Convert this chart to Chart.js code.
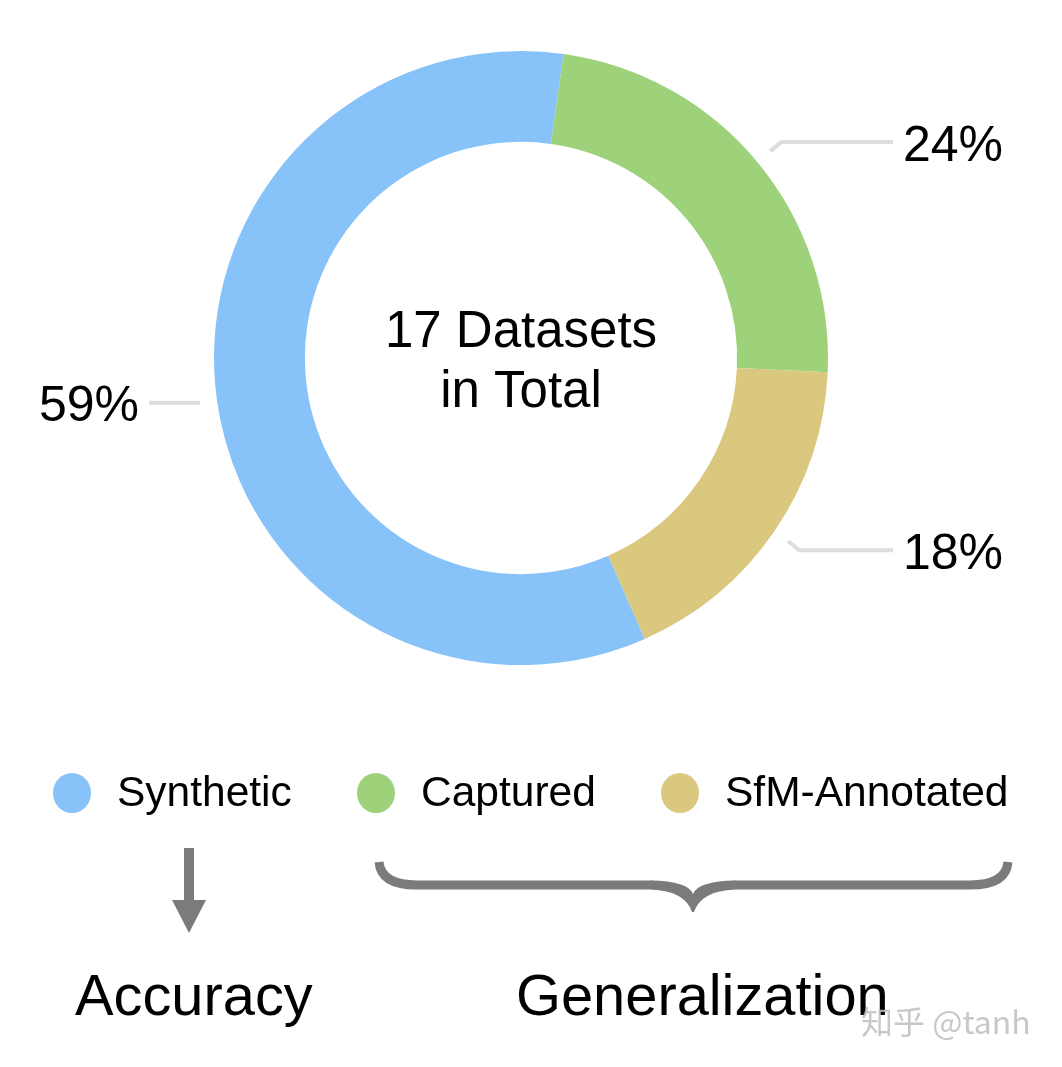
<!DOCTYPE html>
<html>
<head>
<meta charset="utf-8">
<script src="https://cdn.jsdelivr.net/npm/chart.js@4"></script>
<style>
html,body{margin:0;padding:0;background:#fff;}
canvas{display:block;}
</style>
</head>
<body>
<canvas id="c" width="1062" height="1067"></canvas>
<script>
const categories = ['Synthetic', 'Captured', 'SfM-Annotated'];
const datasetCounts = [10, 4, 3];
const percentLabels = ['59%', '24%', '18%'];
const sliceColors = ['#87C3F8', '#9DD27B', '#DBC87F'];
const centerLines = ['17 Datasets', 'in Total'];
const groupLabels = ['Accuracy', 'Generalization'];
const watermark = '知乎 @tanh';

const FONT = '"Liberation Sans", Arial, Helvetica, sans-serif';
const GRAY = '#7b7b7b';

const overlay = {
  id: 'overlay',
  afterDraw(chart) {
    const ctx = chart.ctx;
    const meta = chart.getDatasetMeta(0);
    const arc0 = meta.data[0];
    const cx = arc0.x, cy = arc0.y;
    ctx.save();
    // center text
    ctx.fillStyle = '#000';
    ctx.font = '51px ' + FONT;
    ctx.textAlign = 'center';
    ctx.textBaseline = 'alphabetic';
    ctx.fillText(centerLines[0], cx, cy - 11);
    ctx.fillText(centerLines[1], cx, cy + 49);

    // leader lines + percentage labels
    meta.data.forEach((arc, i) => {
      const mid = (arc.startAngle + arc.endAngle) / 2;
      const r = arc.outerRadius + 17;
      const px = cx + Math.cos(mid) * r;
      const py = cy + Math.sin(mid) * r;
      const right = Math.cos(mid) > 0;
      const dir = right ? 1 : -1;
      let ex = px, ey = py;
      if (Math.abs(py - cy) > 100) {
        ex = px + dir * 11;
        ey = py + (py > cy ? 9 : -9);
      }
      const endX = cx + dir * 372;
      ctx.strokeStyle = '#dddddd';
      ctx.lineWidth = 4;
      ctx.lineJoin = 'round';
      ctx.beginPath();
      ctx.moveTo(px, py);
      ctx.lineTo(ex, ey);
      ctx.lineTo(endX, ey);
      ctx.stroke();
      ctx.fillStyle = '#000';
      ctx.font = '50px ' + FONT;
      ctx.textBaseline = 'middle';
      ctx.textAlign = right ? 'left' : 'right';
      ctx.fillText(percentLabels[i], endX + dir * 10, ey + 5);
    });

    // legend
    const legendX = [72, 376, 680];
    const legendY = 793;
    ctx.font = '42.5px ' + FONT;
    ctx.textAlign = 'left';
    ctx.textBaseline = 'middle';
    categories.forEach((name, i) => {
      ctx.fillStyle = sliceColors[i];
      ctx.beginPath();
      ctx.ellipse(legendX[i], legendY, 19, 20, 0, 0, Math.PI * 2);
      ctx.fill();
      ctx.fillStyle = '#000';
      ctx.fillText(name, legendX[i] + 45, legendY + 1);
    });

    // arrow
    ctx.fillStyle = GRAY;
    ctx.fillRect(184, 848, 10, 54);
    ctx.beginPath();
    ctx.moveTo(172, 900);
    ctx.lineTo(206, 900);
    ctx.lineTo(189, 933);
    ctx.closePath();
    ctx.fill();

    // brace
    const bl = 377, br = 1010, bm = 693, top = 862, h = 885, tip = 912;
    ctx.strokeStyle = GRAY;
    ctx.lineCap = 'butt';
    ctx.lineJoin = 'round';
    ctx.lineWidth = 9;
    ctx.beginPath();
    ctx.moveTo(bl + 2, top);
    ctx.quadraticCurveTo(bl + 4, h, bl + 40, h);
    ctx.lineTo(bm - 40, h);
    ctx.stroke();
    ctx.beginPath();
    ctx.moveTo(br - 2, top);
    ctx.quadraticCurveTo(br - 4, h, br - 40, h);
    ctx.lineTo(bm + 40, h);
    ctx.stroke();
    ctx.fillStyle = GRAY;
    ctx.beginPath();
    ctx.moveTo(bm - 42, h - 4.5);
    ctx.quadraticCurveTo(bm - 5, h - 4, bm, tip - 18);
    ctx.quadraticCurveTo(bm + 5, h - 4, bm + 42, h - 4.5);
    ctx.lineTo(bm + 42, h + 4.5);
    ctx.quadraticCurveTo(bm + 8, h + 6, bm + 1, tip);
    ctx.lineTo(bm - 1, tip);
    ctx.quadraticCurveTo(bm - 8, h + 6, bm - 42, h + 4.5);
    ctx.closePath();
    ctx.fill();

    // group labels
    ctx.fillStyle = '#000';
    ctx.font = '57.8px ' + FONT;
    ctx.textAlign = 'left';
    ctx.textBaseline = 'alphabetic';
    ctx.fillText(groupLabels[0], 75, 1015);
    ctx.fillText(groupLabels[1], 516, 1015);

    // watermark
    ctx.font = '32px "Noto Sans CJK SC", ' + FONT;
    ctx.fillStyle = 'rgba(190,190,190,0.85)';
    ctx.textBaseline = 'middle';
    ctx.fillText(watermark, 861, 1022);
    ctx.restore();
  }
};

new Chart(document.getElementById('c'), {
  type: 'doughnut',
  data: {
    labels: categories,
    datasets: [{
      data: datasetCounts,
      backgroundColor: sliceColors,
      borderWidth: 0,
      hoverOffset: 0
    }]
  },
  options: {
    responsive: false,
    animation: false,
    cutout: '70.4%',
    rotation: 156.2,
    layout: { padding: { left: 214, right: 234, top: 51, bottom: 402 } },
    plugins: {
      legend: { display: false },
      tooltip: { enabled: false }
    }
  },
  plugins: [overlay]
});
</script>
</body>
</html>
